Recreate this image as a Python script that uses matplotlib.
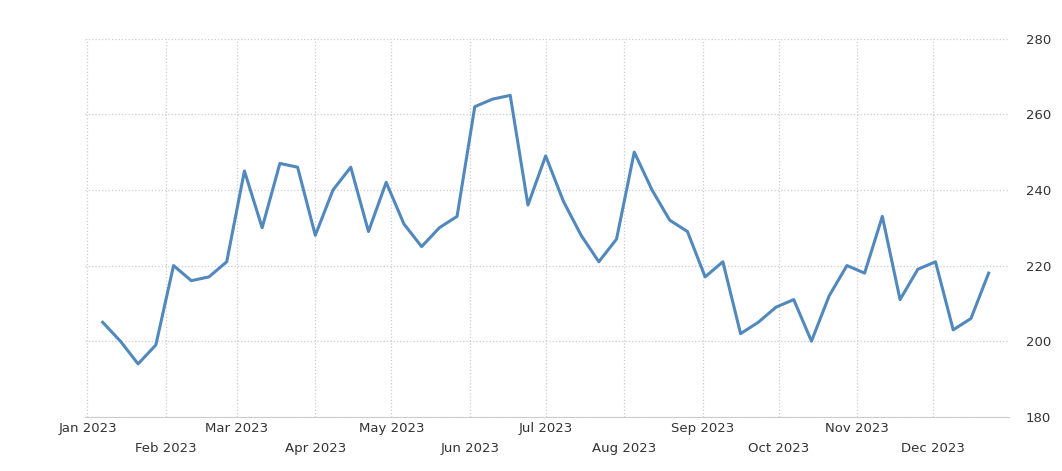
import numpy as np
import matplotlib
matplotlib.use("Agg")
import matplotlib.pyplot as plt
import matplotlib.dates as mdates

# weekly values, starting 2023-01-07
start = "2023-01-07"
values = [205, 200, 194, 199, 220, 216, 217, 221, 245, 230, 247, 246, 228, 240,
          246, 229, 242, 231, 225, 230, 233, 262, 264, 265, 236, 249, 237, 228,
          221, 227, 250, 240, 232, 229, 217, 221, 202, 205, 209, 211, 200, 212,
          220, 218, 233, 211, 219, 221, 203, 206, 218]
month_labels = ["Jan 2023", "Feb 2023", "Mar 2023", "Apr 2023", "May 2023", "Jun 2023",
                "Jul 2023", "Aug 2023", "Sep 2023", "Oct 2023", "Nov 2023", "Dec 2023"]

dates = np.datetime64(start) + np.arange(len(values)) * np.timedelta64(7, "D")
months = np.arange(np.datetime64("2023-01"), np.datetime64("2024-01")).astype("datetime64[D]")

fig = plt.figure(figsize=(10.62, 4.71), dpi=100)
ax = fig.add_axes([0.08, 0.115, 0.87, 0.803])
ax.plot(dates, values, color="#5189bd", linewidth=2.2)

ax.set_ylim(180, 280)
ax.set_yticks([180, 200, 220, 240, 260, 280])
ax.yaxis.tick_right()
ax.set_xlim(months[0] - np.timedelta64(1, "D"), np.datetime64("2023-12-31"))
ax.set_xticks(months)
ax.set_xticklabels(month_labels)
for i, lab in enumerate(ax.get_xticklabels()):
    if i % 2 == 1:
        lab.set_y(-0.055)

ax.grid(True, color="#cccccc", linestyle=":", linewidth=0.9)
for s in ["top", "left", "right"]:
    ax.spines[s].set_visible(False)
ax.spines["bottom"].set_color("#cccccc")
ax.tick_params(axis="both", length=0, labelsize=9.5, colors="#333333")
ax.tick_params(axis="y", pad=12)

fig.savefig("out.png")
